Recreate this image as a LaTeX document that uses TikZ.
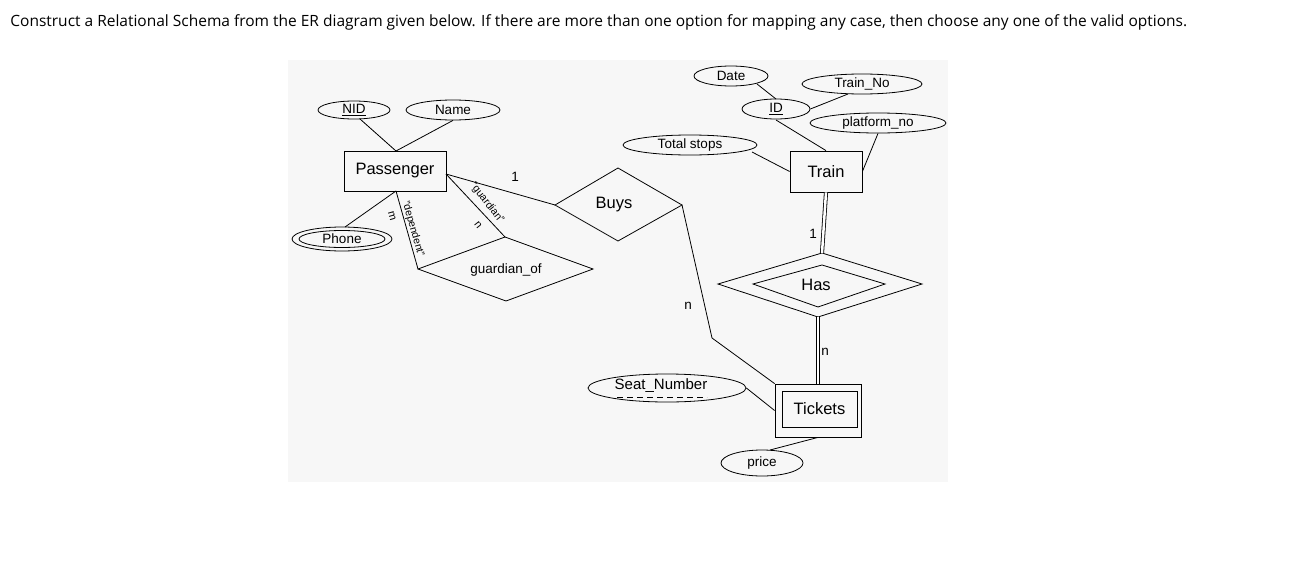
\documentclass[tikz,border=0pt]{standalone}
\usepackage{fontspec}
\setmainfont{Liberation Sans}
\newfontfamily\titlefont{Open Sans}
\usetikzlibrary{shapes.geometric}
\begin{document}
\begin{tikzpicture}[x=1pt,y=-1pt,line width=0.8pt,
  attr/.style={draw,ellipse,inner sep=0pt,font=\fontsize{13.5}{15}\selectfont},
  lbl/.style={font=\fontsize{13.5}{15}\selectfont,inner sep=0pt},
  ent/.style={draw,rectangle,inner sep=0pt,font=\fontsize{16.5}{18}\selectfont}]
\useasboundingbox (0,0) rectangle (1303,570);
\fill[black!3] (288,60) rectangle (948,482);
\node[anchor=west,inner sep=0pt,font=\titlefont\fontsize{15.5}{17}\selectfont] (title) at (10,22) {Construct a Relational Schema from the ER diagram given below. If there are more than one option for mapping any case, then choose any one of the valid options.};
% Passenger side
\node[attr,minimum width=72,minimum height=18] (nid) at (354,110) {\underline{NID}};
\node[attr,minimum width=94,minimum height=20] (name) at (453,110) {Name};
\node[ent,minimum width=102,minimum height=40] (pass) at (395,171) {Passenger};
\node[attr,minimum width=100,minimum height=24] (phone) at (342,239) {};
\node[attr,minimum width=86,minimum height=17] (phonei) at (342,239) {Phone};
\coordinate (ptop) at (396,151);
\coordinate (pbot) at (396,191);
\coordinate (pright) at (446,174);
\draw (360,119) -- (ptop);
\draw (name.south) -- (ptop);
\draw (345,227) -- (pbot);
% guardian_of
\coordinate (gl) at (418,269); \coordinate (gt) at (505,237);
\coordinate (gr) at (593,269); \coordinate (gb) at (506,301);
\draw (gl) -- (gt) -- (gr) -- (gb) -- cycle;
\node[lbl] (gof) at (506,270) {guardian\_of};
\draw (pbot) -- (gl);
\draw (pright) -- (gt);
\node[lbl,rotate=-74,font=\fontsize{10.5}{12}\selectfont] (dep) at (413,229) {"dependent"};
\node[lbl,rotate=-74,font=\fontsize{11}{12}\selectfont] (m) at (392,216) {m};
\node[lbl,rotate=-52,font=\fontsize{10.5}{12}\selectfont] (guard) at (487,203) {"guardian"};
\node[lbl,rotate=-52,font=\fontsize{11}{12}\selectfont] (nn) at (478,225) {n};
% Buys
\coordinate (bl) at (555,205); \coordinate (bt) at (618,168);
\coordinate (br) at (682,205); \coordinate (bb) at (618,241);
\draw (bl) -- (bt) -- (br) -- (bb) -- cycle;
\node[font=\fontsize{16.5}{18}\selectfont,inner sep=0pt] (buys) at (614,205) {Buys};
\draw (pright) -- (bl);
\node[lbl] (one1) at (515,177) {1};
% Train side
\node[ent,minimum width=72,minimum height=41] (train) at (826,171.5) {Train};
\node[attr,minimum width=134,minimum height=20] (tstops) at (690,145) {Total stops};
\node[attr,minimum width=68,minimum height=20] (id) at (776,109) {\underline{ID}};
\node[attr,minimum width=74,minimum height=20] (date) at (731,76) {Date};
\node[attr,minimum width=120,minimum height=20] (tno) at (862,84) {Train\_No};
\node[attr,minimum width=136,minimum height=20] (pno) at (878,123) {platform\_no};
\draw (752,152) -- (train.west);
\draw (776,120) -- (train.north);
\draw (757,84) -- (776,99);
\draw (id.east) -- (848,94);
\draw (pno.south) -- (train.east);
% Has
\coordinate (hl) at (718,284); \coordinate (ht) at (822,253);
\coordinate (hr) at (922,284); \coordinate (hb) at (818,317);
\draw (hl) -- (ht) -- (hr) -- (hb) -- cycle;
\draw (753,284) -- (822,265) -- (885,284) -- (818,307) -- cycle;
\node[font=\fontsize{16.5}{18}\selectfont,inner sep=0pt] (has) at (816,285) {Has};
\draw[double,double distance=2.5pt] (train.south) -- (ht);
\node[lbl] (one2) at (813,234) {1};
% Tickets
\node[ent,minimum width=86,minimum height=53] (tick) at (818,410.5) {};
\node[ent,minimum width=75,minimum height=36] (ticki) at (819.5,409) {Tickets};
\draw[double,double distance=2.5pt] (hb) -- (tick.north);
\node[lbl] (n2) at (825,352) {n};
\coordinate (bend) at (712,338);
\draw (br) -- (bend) -- (tick.north west);
\node[lbl] (n1) at (688,306) {n};
\node[attr,minimum width=158,minimum height=28] (seat) at (667,388) {};
\node[lbl,font=\fontsize{15}{17}\selectfont] (seatt) at (661,386) {Seat\_Number};
\draw[dash pattern=on 6pt off 4pt,line width=1.1pt] (617,397.5) -- (707,397.5);
\draw (seat.east) -- (tick.west);
\node[attr,minimum width=82,minimum height=26] (price) at (762,463) {price};
\draw (770,450) -- (tick.south);
\end{tikzpicture}
\end{document}
